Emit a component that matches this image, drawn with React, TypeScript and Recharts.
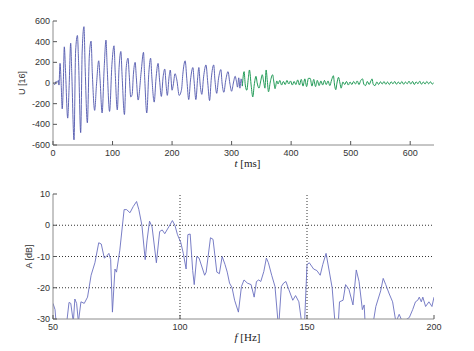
import React from "react";
import {
  LineChart,
  Line,
  XAxis,
  YAxis,
  Label,
  ReferenceLine,
} from "recharts";

// time signal, first part (blue) — [t ms, U]
const blueT = [0, 3, 5, 7, 9, 10, 11.8, 13.5, 15.5, 17, 19, 21, 24.7, 27, 29.7, 31.5, 35.3, 38, 41, 43, 46.5, 49, 52, 54, 57.7, 61, 64, 66, 70, 73, 76.8, 79, 82.5, 86, 89, 91, 95, 99, 102.5, 104.5, 108, 111, 114, 116, 120, 123, 126, 128, 130.6, 133, 135, 138, 140, 143, 148, 152, 154, 157.5, 161, 164, 166, 170, 173, 176.5, 179, 182, 185, 187.7, 190, 192, 195, 197, 200, 202, 205, 208, 212, 216, 218, 222, 225, 228, 231, 235, 237, 240, 243, 245, 247, 250, 253, 257, 260, 263, 266, 270, 272, 275, 278, 282, 284, 287, 290, 294, 297, 300, 303, 306, 308, 310, 312, 314, 316, 318];
const blueU = [0, -15, 15, 5, 25, -20, 190, 30, -250, -80, 350, 120, -340, -50, 385, 100, -550, 310, 460, 200, -480, 300, 545, 150, -385, 260, 405, 100, -265, -20, 215, 40, -290, 150, 415, 150, -275, 180, 360, 100, -260, 150, 305, 80, -305, 150, 240, 80, -135, -110, 80, 200, 50, -165, 100, 297, 50, -290, 100, 240, 60, -185, 40, 190, 30, -130, 60, 135, -20, -120, 60, 125, -70, -20, 90, 30, -120, -60, 80, 215, 20, -160, 30, 150, 20, -160, 50, 150, 0, -110, 60, 175, 0, -170, 50, 175, 30, -100, 40, 130, 0, -90, 20, 110, 0, -80, 0, 65, 20, -40, 50, -50, 40, -30];

// time signal, second part (green)
const greenT = [318, 321, 323, 325.5, 328, 330, 333, 335.6, 338, 341, 343, 346, 349, 351.5, 354, 356, 358, 360, 362, 365, 369, 371, 373, 376, 378, 381, 384, 387, 390, 393, 396, 399, 402, 405, 408, 411, 414, 417, 420, 423, 426, 429, 432, 435, 438, 441, 444, 447, 450, 453, 456, 459, 462, 465, 468, 471, 473, 475, 477, 479.6, 482, 484, 487, 490, 493, 496, 499, 502, 505, 508, 511, 514, 517, 520, 522, 525, 528, 531, 534, 536, 538, 541, 544, 547, 550, 553, 556, 559, 562, 565, 568, 571, 574, 577, 580, 583, 586, 589, 592, 595, 598, 601, 604, 607, 610, 613, 616, 619, 622, 625, 628, 631, 634, 637, 640];
const greenU = [-30, 110, -20, -70, 40, 126, -30, -135, -20, 65, 0, -50, 20, 80, 10, -50, 126, 20, -85, 10, 80, 10, -55, 20, -10, 25, -20, 15, -15, 25, -10, 20, -20, 15, -15, 30, -20, 35, -30, 40, -35, 45, 45, -30, 35, -35, 25, -25, 20, -20, 25, -15, 20, -25, 30, 70, -20, -65, 0, 55, 0, -50, 10, -15, 15, -20, 10, -15, 15, -10, 20, -15, 25, 40, -10, -25, 15, -15, 20, 40, -15, -25, 10, -15, 12, -10, 15, -12, 10, -15, 12, -8, 15, -12, 10, -10, 15, -12, 10, -8, 18, -10, 15, -15, 12, -8, 18, -12, 10, -10, 15, -8, 12, -10, 5];

// spectrum — [f Hz, A dB]
const specF = [50, 50.8, 51.5, 55, 56.3, 57, 58, 58.6, 59.3, 60, 61, 62.3, 63.6, 65, 66.5, 68, 69, 70.2, 71, 72, 72.7, 73.4, 74.4, 75, 76.3, 78, 79, 80.3, 81.6, 82.9, 83.8, 85, 86.3, 87, 88, 89, 90.7, 92, 93, 94, 95.6, 97, 98, 99, 100.3, 101.3, 102.4, 103.1, 104, 105, 105.6, 106.6, 107.5, 109.7, 110.3, 112, 113, 114.5, 115.5, 116.6, 117.7, 118.6, 119.5, 120.5, 121.5, 123, 124.2, 125.2, 126.5, 128, 129.2, 130.1, 131, 131.8, 133, 134, 134.8, 136.1, 137.4, 138.8, 139.9, 140.8, 141.7, 142.8, 144.4, 145.5, 146.8, 148.2, 149, 150, 150.9, 152.6, 153.9, 155.2, 156.2, 157.5, 158.6, 159.9, 161.2, 162.2, 162.8, 164.2, 165.2, 166.5, 168.1, 169.4, 170.5, 171.8, 172.5, 173, 175.7, 177.1, 179, 180, 181, 182.4, 183.7, 185, 186.3, 187.6, 190.3, 191.6, 192.7, 193.6, 194.2, 195, 195.6, 196.7, 198, 199.2, 200];
const specA = [-25, -27, -34, -34, -24.7, -25, -31, -23.6, -25, -31, -24.5, -25, -23, -16, -12, -5.6, -6, -10.5, -10, -9, -11, -27.8, -14, -15, -8, 5, 5, 4, 6, 7.6, 5, 0, -11, -5, 1.3, -0.5, -12, -2, -1.5, -2.7, -0.5, 1.5, 0, -3, -5.5, -9, -14, -3, -2.8, -14.5, -19, -10, -10.5, -16, -15, -4, -4.5, -15, -15.5, -10, -12.5, -15, -18.5, -20, -24, -27.8, -19.6, -17.5, -18.5, -19, -23, -18, -17.5, -18, -14.8, -10.5, -12, -16, -19.6, -33, -19.6, -18.5, -18, -20.5, -24, -22.5, -24.5, -33, -32, -12.6, -12, -14, -14.5, -16, -12.6, -9, -14, -20, -33, -33, -24.5, -24, -19, -20.5, -25.5, -14.3, -18, -27, -25.5, -33, -33, -26, -21, -17, -19, -22, -24.5, -31, -28.5, -31, -29.5, -27, -24.5, -24, -23, -24.5, -23, -26, -24.5, -26, -23];

const tTicks = [0, 100, 200, 300, 400, 500, 600];
const uTicks = [-600, -400, -200, 0, 200, 400, 600];
const fTicks = [50, 100, 150, 200];
const aTicks = [-30, -20, -10, 0, 10];

const blueData = blueT.map((t, i) => ({ t, u: blueU[i] }));
const greenData = greenT.map((t, i) => ({ t, u: greenU[i] }));
const specData = specF.map((f, i) => ({ f, a: specA[i] }));

const frame = "#8c8c8c";
const tickCol = "#555";
const sans = "Liberation Sans, Arial, sans-serif";
const serif = "Liberation Serif, Times New Roman, serif";

// matlab style: tick marks point into the plot box
const BottomTick = (p: any) => (
  <g>
    <line x1={p.x} y1={p.y} x2={p.x} y2={p.y - 4} stroke={tickCol} />
    <text x={p.x} y={p.y + 11} textAnchor="middle" fontFamily={sans} fontSize={9} fill="#333">
      {p.payload.value}
    </text>
  </g>
);
const LeftTick = (p: any) => (
  <g>
    <line x1={p.x} y1={p.y} x2={p.x + 4} y2={p.y} stroke={tickCol} />
    <text x={p.x - 3} y={p.y + 3} textAnchor="end" fontFamily={sans} fontSize={9} fill="#333">
      {p.payload.value}
    </text>
  </g>
);
const TopTick = (p: any) => <line x1={p.x} y1={p.y} x2={p.x} y2={p.y + 4} stroke={tickCol} />;
const RightTick = (p: any) => <line x1={p.x} y1={p.y} x2={p.x - 4} y2={p.y} stroke={tickCol} />;

const XTitle = ({ viewBox, sym, unit }: any) => (
  <text
    x={viewBox.x + viewBox.width / 2 + 4}
    y={viewBox.y + 22}
    textAnchor="middle"
    fontFamily={serif}
    fontSize={11}
    fill="#222"
  >
    <tspan fontStyle="italic">{sym}</tspan> [{unit}]
  </text>
);
const YTitle = ({ viewBox, text, x }: any) => {
  const cy = viewBox.y + viewBox.height / 2;
  return (
    <text x={x} y={cy} transform={`rotate(-90 ${x} ${cy})`} textAnchor="middle" dominantBaseline="middle" fontFamily={sans} fontSize={9} fill="#333">
      {text}
    </text>
  );
};

const TimePlot = () => (
  <LineChart width={474} height={175} margin={{ top: 21, right: 40, bottom: 0, left: 0 }}>
    <XAxis dataKey="t" type="number" domain={[0, 640]} ticks={tTicks} interval={0} allowDataOverflow
      height={30} tickSize={0} tickMargin={0} tick={<BottomTick />} axisLine={{ stroke: frame }}>
      <Label content={(p: any) => <XTitle {...p} sym="t" unit="ms" />} />
    </XAxis>
    <XAxis xAxisId="top" orientation="top" type="number" domain={[0, 640]} ticks={tTicks} interval={0} allowDataOverflow
      height={0} tickSize={0} tickMargin={0} tick={<TopTick />} axisLine={{ stroke: frame }} />
    <YAxis type="number" domain={[-600, 600]} ticks={uTicks} interval={0} allowDataOverflow
      width={53} tickSize={0} tickMargin={0} tick={<LeftTick />} axisLine={{ stroke: frame }}>
      <Label content={(p: any) => <YTitle {...p} x={23} text="U [16]" />} />
    </YAxis>
    <YAxis yAxisId="right" orientation="right" type="number" domain={[-600, 600]} ticks={uTicks} interval={0} allowDataOverflow
      width={0} tickSize={0} tickMargin={0} tick={<RightTick />} axisLine={{ stroke: frame }} />
    <Line data={blueData} dataKey="u" type="monotone" stroke="#4f56ad" strokeWidth={0.9} dot={false} isAnimationActive={false} />
    <Line data={greenData} dataKey="u" type="monotone" stroke="#1f9a55" strokeWidth={1} dot={false} isAnimationActive={false} />
  </LineChart>
);

const SpecPlot = () => (
  <LineChart width={474} height={176} data={specData} margin={{ top: 19, right: 40, bottom: 0, left: 0 }}>
    {[100, 150].map((v) => (
      <ReferenceLine key={"x" + v} x={v} stroke="#333" strokeDasharray="1 2" />
    ))}
    {[0, -10, -20].map((v) => (
      <ReferenceLine key={"y" + v} y={v} stroke="#333" strokeDasharray="1 2" />
    ))}
    <XAxis dataKey="f" type="number" domain={[50, 200]} ticks={fTicks} interval={0} allowDataOverflow
      height={32} tickSize={0} tickMargin={0} tick={<BottomTick />} axisLine={{ stroke: frame }}>
      <Label content={(p: any) => <XTitle {...p} sym="f" unit="Hz" />} />
    </XAxis>
    <XAxis xAxisId="top" orientation="top" type="number" domain={[50, 200]} ticks={fTicks} interval={0} allowDataOverflow
      height={0} tickSize={0} tickMargin={0} tick={<TopTick />} axisLine={{ stroke: frame }} />
    <YAxis type="number" domain={[-30, 10]} ticks={aTicks} interval={0} allowDataOverflow
      width={53} tickSize={0} tickMargin={0} tick={<LeftTick />} axisLine={{ stroke: frame }}>
      <Label content={(p: any) => <YTitle {...p} x={30} text="A [dB]" />} />
    </YAxis>
    <YAxis yAxisId="right" orientation="right" type="number" domain={[-30, 10]} ticks={aTicks} interval={0} allowDataOverflow
      width={0} tickSize={0} tickMargin={0} tick={<RightTick />} axisLine={{ stroke: frame }} />
    <Line dataKey="a" type="linear" stroke="#6a6fc0" strokeWidth={0.9} dot={false} isAnimationActive={false} />
  </LineChart>
);

export default function App() {
  return (
    <div style={{ position: "absolute", left: 0, top: 0, width: 474, height: 351, background: "#fff" }}>
      <TimePlot />
      <SpecPlot />
    </div>
  );
}
